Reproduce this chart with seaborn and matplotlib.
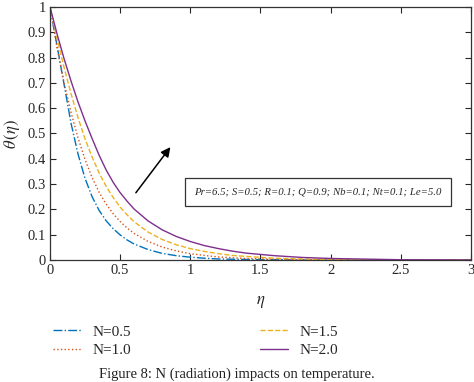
import numpy as np
import pandas as pd
import seaborn as sns
import matplotlib.pyplot as plt

# eta grid and theta(eta) for each N
eta = [0, 0.05, 0.1, 0.15, 0.2, 0.25, 0.3, 0.35, 0.4, 0.45, 0.5, 0.55, 0.6,
       0.7, 0.8, 0.9, 1.0, 1.1, 1.2, 1.3, 1.4, 1.6, 1.8, 2.0, 2.5, 3.0]

theta_n05 = [1.0, 0.848, 0.695, 0.54, 0.418, 0.322, 0.25, 0.196, 0.155, 0.124, 0.099,
             0.079, 0.063, 0.041, 0.026, 0.017, 0.011, 0.007, 0.004, 0.003, 0.002,
             0.001, 0.0, 0.0, 0.0, 0.0]
theta_n10 = [1.0, 0.839, 0.701, 0.583, 0.482, 0.397, 0.326, 0.268, 0.221, 0.183, 0.152,
             0.126, 0.105, 0.073, 0.051, 0.036, 0.025, 0.018, 0.012, 0.009, 0.006,
             0.003, 0.001, 0.0, 0.0, 0.0]
theta_n15 = [1.0, 0.876, 0.762, 0.657, 0.562, 0.478, 0.407, 0.344, 0.291, 0.247, 0.209,
             0.178, 0.151, 0.110, 0.081, 0.060, 0.045, 0.034, 0.025, 0.018, 0.014,
             0.007, 0.004, 0.002, 0.0, 0.0]
theta_n20 = [1.0, 0.894, 0.796, 0.707, 0.624, 0.549, 0.480, 0.414, 0.356, 0.307, 0.266,
             0.232, 0.201, 0.154, 0.119, 0.093, 0.073, 0.057, 0.045, 0.035, 0.027,
             0.017, 0.010, 0.006, 0.001, 0.0]

labels = ["N=0.5", "N=1.0", "N=1.5", "N=2.0"]
series = [theta_n05, theta_n10, theta_n15, theta_n20]
colors = ["#0072BD", "#D95319", "#EDB120", "#7E2F8E"]
styles = ["-.", ":", "--", "-"]

rows = []
for lab, vals in zip(labels, series):
    for e, t in zip(eta, vals):
        rows.append({"eta": e, "theta": t, "N": lab})
df = pd.DataFrame(rows)

sns.set_style("ticks")
plt.rcParams['font.family'] = ['Liberation Serif', 'DejaVu Serif']
plt.rcParams['mathtext.fontset'] = 'stix'
plt.rcParams['xtick.direction'] = 'in'
plt.rcParams['ytick.direction'] = 'in'

fig = plt.figure(figsize=(4.74, 3.82), dpi=100)
ax = fig.add_axes([0.1055, 0.3194, 0.888, 0.6623])

for lab, col, ls in zip(labels, colors, styles):
    sns.lineplot(data=df[df["N"] == lab], x="eta", y="theta", ax=ax,
                 color=col, linestyle=ls, linewidth=1.0, label=lab)

ax.set_xlim(0, 3)
ax.set_ylim(0, 1)
ax.set_xticks([0, 0.5, 1, 1.5, 2, 2.5, 3])
ax.set_xticklabels(["0", "0.5", "1", "1.5", "2", "2.5", "3"])
ax.set_yticks(np.arange(0, 1.01, 0.1))
ax.set_yticklabels(["0", "0.1", "0.2", "0.3", "0.4", "0.5", "0.6", "0.7", "0.8", "0.9", "1"])
ax.tick_params(labelsize=10.5, length=4, width=0.8, top=True, right=True, pad=3)
for sp in ax.spines.values():
    sp.set_linewidth(0.9)
    sp.set_color("#333333")

ax.set_xlabel(r"$\eta$", fontsize=12, labelpad=12)
ax.set_ylabel(r"$\theta\,(\eta)$", fontsize=12, labelpad=4)

ax.text(1.91, 0.269, "Pr=6.5; S=0.5; R=0.1; Q=0.9; Nb=0.1; Nt=0.1; Le=5.0",
        fontsize=7.75, style="italic", ha="center", va="center",
        bbox=dict(boxstyle="square,pad=0.85", fc="white", ec="#333333", lw=0.9))
ax.annotate("", xy=(0.87, 0.455), xytext=(0.60, 0.257),
            arrowprops=dict(arrowstyle="-|>", color="black", lw=1.1, mutation_scale=14))

handles, labs = ax.get_legend_handles_labels()
ax.get_legend().remove()
fig.legend(handles, labs, ncol=2, frameon=False, fontsize=11,
           loc="upper left", bbox_to_anchor=(0.082, 0.185), handlelength=1.85,
           columnspacing=8.45, labelspacing=0.3, handletextpad=0.75)

fig.text(0.5, 0.003, "Figure 8: N (radiation) impacts on temperature.",
         fontsize=10.5, ha="center", va="bottom", color="#222222")

fig.savefig("out.png", dpi=100)
